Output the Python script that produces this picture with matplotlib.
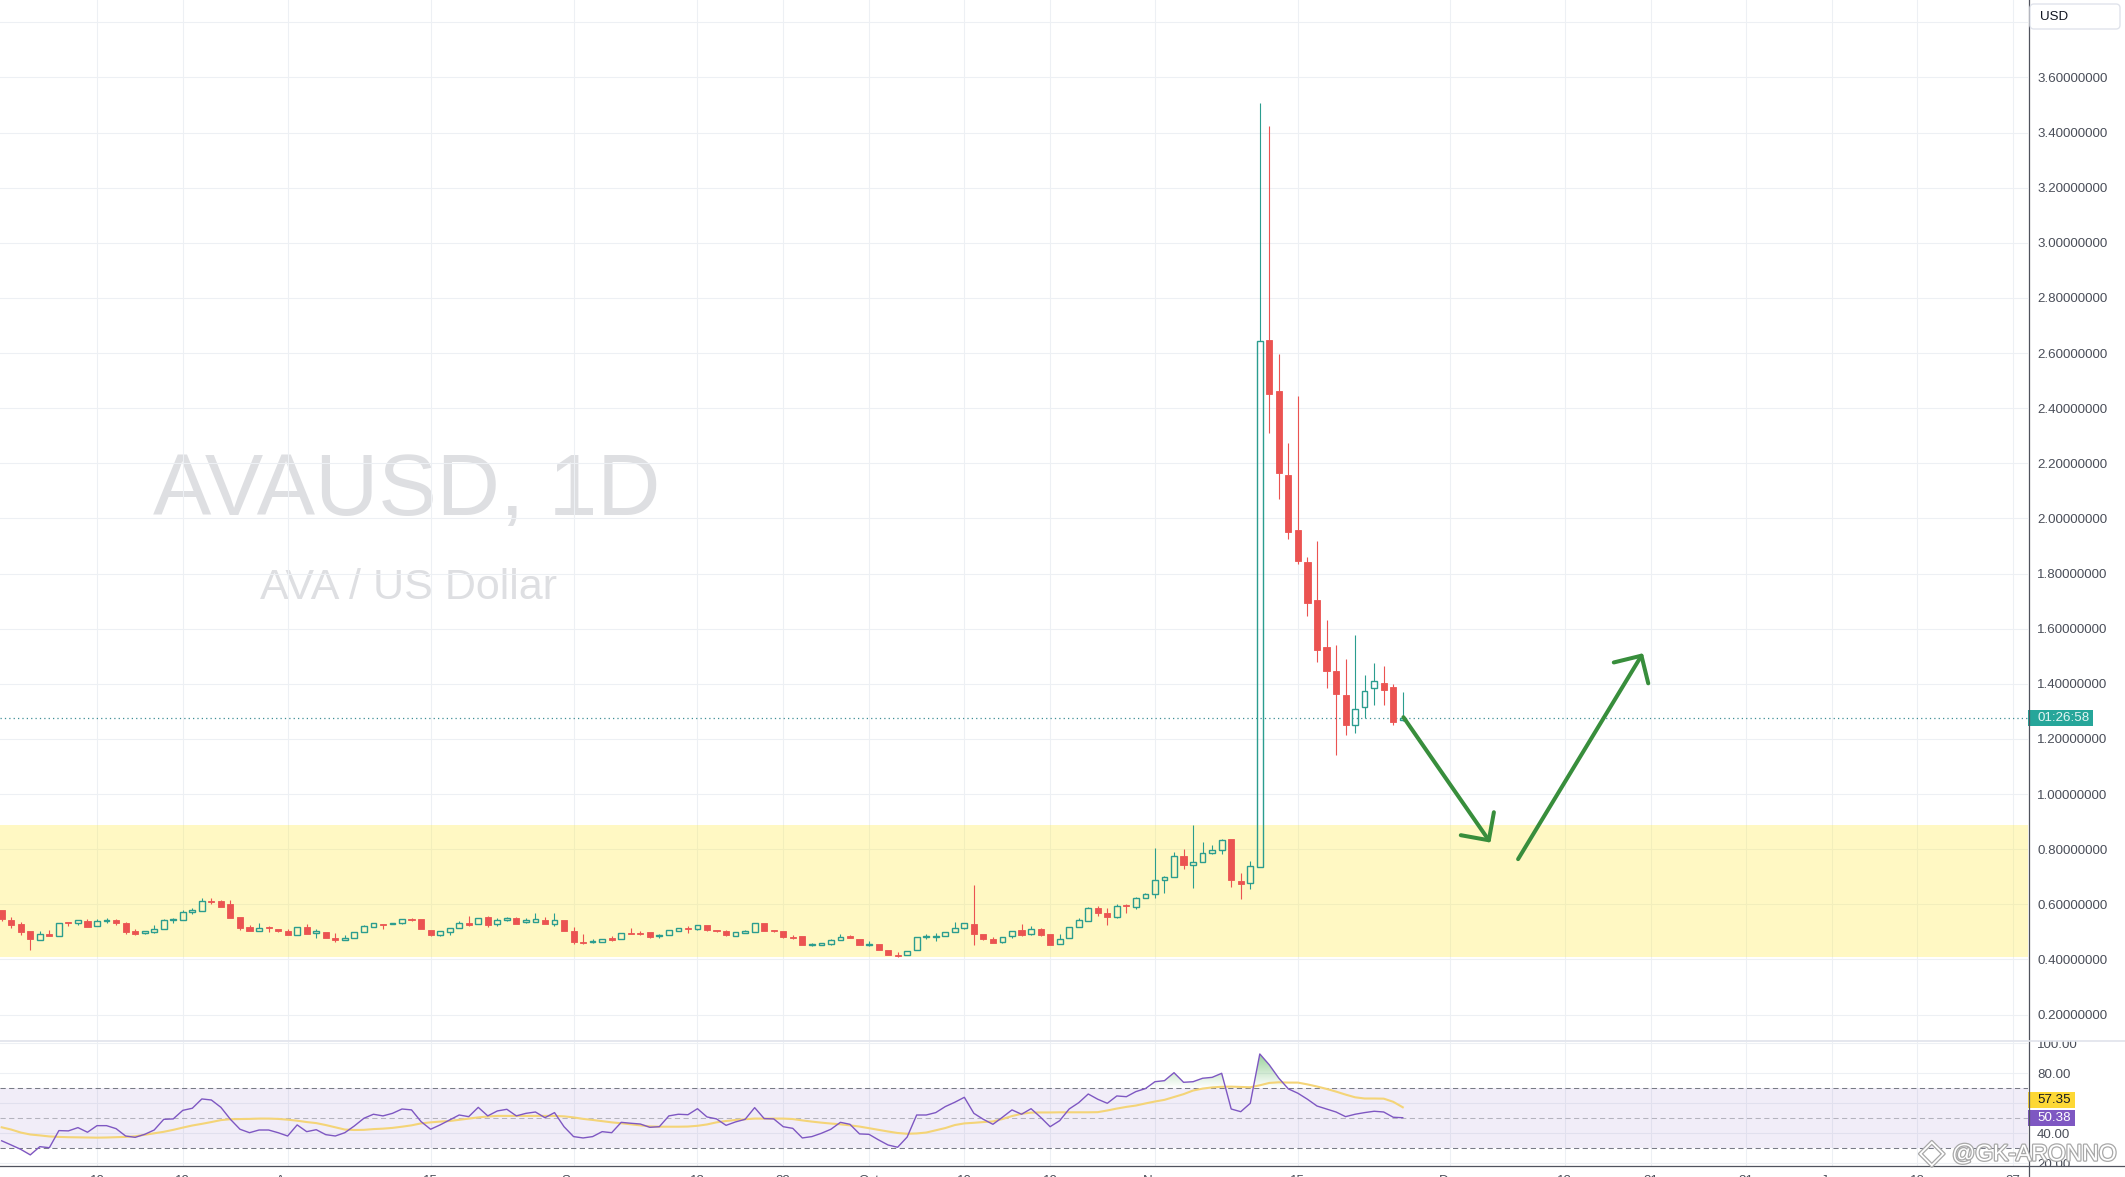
import numpy as np
import matplotlib
matplotlib.use("Agg")
import matplotlib.pyplot as plt
import matplotlib.patheffects as pe
from matplotlib.lines import Line2D
from matplotlib.patches import FancyBboxPatch, Rectangle
from matplotlib.path import Path
from matplotlib.transforms import Affine2D, Bbox, TransformedBbox, blended_transform_factory

plt.rcParams['font.family'] = ['Liberation Sans', 'DejaVu Sans']

# daily candles
opens = [.578, .544, .527, .502, .471, .494, .486, .536, .532, .539,
         .520, .539, .542, .531, .503, .497, .499, .510, .542, .543,
         .571, .576, .611, .611, .600, .553, .516, .504, .515, .511,
         .505, .490, .519, .496, .501, .479, .471, .479, .499, .519,
         .530, .527, .533, .547, .545, .508, .488, .499, .514, .534,
         .528, .553, .528, .542, .549, .537, .537, .542, .528, .544,
         .504, .465, .464, .465, .479, .475, .497, .495, .499, .485,
         .490, .504, .514, .510, .526, .508, .505, .486, .497, .501,
         .531, .508, .503, .480, .484, .454, .453, .457, .471, .484,
         .476, .454, .455, .436, .417, .417, .433, .480, .481, .485,
         .498, .513, .528, .494, .476, .462, .484, .507, .491, .510,
         .492, .455, .477, .518, .538, .587, .567, .555, .598, .592,
         .622, .636, .687, .699, .776, .742, .753, .786, .796, .836,
         .685, .676, .734, 2.647, 2.462, 2.157, 1.958, 1.841, 1.703, 1.532,
         1.448, 1.360, 1.251, 1.317, 1.385, 1.404, 1.390, 1.268]
highs = [.581, .554, .536, .505, .505, .508, .533, .536, .544, .548,
         .548, .549, .548, .536, .509, .505, .526, .548, .550, .578,
         .587, .622, .623, .614, .617, .555, .526, .534, .522, .511,
         .509, .519, .527, .509, .501, .496, .487, .498, .524, .534,
         .530, .534, .547, .551, .548, .508, .505, .514, .541, .556,
         .551, .558, .550, .553, .553, .549, .567, .553, .567, .544,
         .519, .491, .473, .475, .484, .497, .513, .502, .499, .494,
         .508, .514, .522, .526, .526, .508, .508, .498, .508, .531,
         .534, .508, .503, .488, .484, .458, .461, .474, .491, .487,
         .476, .467, .455, .436, .427, .432, .481, .491, .497, .501,
         .536, .531, .670, .494, .481, .481, .505, .527, .520, .515,
         .492, .491, .516, .550, .591, .593, .585, .600, .600, .628,
         .641, .804, .702, .791, .800, .888, .826, .815, .838, .836,
         .714, .756, 3.506, 3.423, 2.597, 2.274, 2.443, 1.859, 1.920, 1.630,
         1.542, 1.489, 1.576, 1.433, 1.474, 1.466, 1.401, 1.370]
lows = [.541, .514, .488, .433, .471, .485, .486, .521, .524, .519,
        .520, .531, .526, .493, .487, .493, .497, .510, .533, .543,
        .566, .576, .600, .590, .550, .507, .503, .504, .498, .498,
        .490, .490, .492, .479, .479, .463, .471, .479, .499, .516,
        .510, .527, .530, .539, .510, .484, .486, .488, .514, .520,
        .528, .518, .521, .538, .530, .531, .537, .530, .521, .503,
        .456, .456, .461, .465, .468, .475, .492, .487, .479, .478,
        .490, .504, .496, .508, .503, .498, .485, .486, .497, .501,
        .503, .499, .477, .474, .453, .449, .453, .452, .471, .479,
        .454, .449, .435, .417, .410, .417, .433, .473, .468, .484,
        .498, .509, .453, .469, .461, .458, .478, .486, .487, .486,
        .453, .455, .477, .518, .538, .559, .526, .550, .570, .584,
        .622, .624, .640, .699, .730, .661, .753, .784, .784, .664,
        .621, .657, .734, 2.311, 2.071, 1.927, 1.833, 1.646, 1.479, 1.385,
        1.14, 1.216, 1.222, 1.276, 1.325, 1.325, 1.251, 1.265]
closes = [.545, .524, .499, .474, .494, .485, .533, .532, .542, .519,
          .541, .541, .531, .499, .492, .502, .511, .544, .545, .571,
          .578, .612, .608, .590, .550, .514, .503, .513, .513, .503,
          .490, .519, .492, .503, .479, .469, .479, .498, .520, .531,
          .525, .534, .547, .544, .510, .487, .502, .514, .531, .524,
          .551, .524, .544, .550, .530, .542, .545, .530, .544, .503,
          .463, .459, .468, .475, .469, .497, .493, .493, .481, .487,
          .508, .513, .511, .526, .507, .502, .488, .498, .505, .531,
          .503, .505, .481, .478, .453, .456, .461, .469, .482, .479,
          .454, .457, .435, .417, .413, .432, .481, .484, .485, .501,
          .514, .531, .493, .475, .461, .481, .505, .490, .509, .490,
          .453, .473, .516, .542, .585, .567, .555, .594, .593, .622,
          .636, .687, .698, .774, .741, .753, .787, .796, .833, .690,
          .675, .738, 2.644, 2.453, 2.164, 1.951, 1.846, 1.693, 1.523, 1.446,
          1.362, 1.251, 1.310, 1.375, 1.412, 1.377, 1.261, 1.275]

rsi = [35.0, 32.2, 29.3, 25.6, 31.1, 30.4, 41.8, 41.6, 43.8, 40.7,
       45.1, 45.1, 43.1, 38.2, 37.3, 39.3, 42.2, 49.3, 49.6, 55.3,
       56.7, 62.9, 62.2, 57.3, 49.3, 42.7, 40.4, 42.2, 42.2, 40.4,
       38.2, 45.6, 41.1, 42.4, 39.1, 38.2, 40.4, 44.9, 50.0, 52.7,
       51.6, 53.3, 56.2, 55.6, 47.8, 42.7, 45.6, 48.9, 52.2, 51.1,
       57.3, 51.6, 54.9, 56.0, 51.6, 53.3, 54.2, 50.4, 53.8, 44.4,
       37.8, 36.9, 37.8, 41.1, 40.4, 47.3, 46.7, 46.2, 44.0, 44.4,
       51.6, 52.7, 52.4, 56.4, 50.9, 49.6, 45.3, 47.6, 49.3, 57.1,
       49.8, 49.6, 44.4, 43.3, 36.9, 37.8, 40.0, 42.7, 47.3, 46.0,
       39.6, 39.3, 35.6, 32.2, 30.7, 37.5, 52.2, 52.2, 53.8, 57.8,
       60.7, 64.0, 53.3, 49.3, 46.0, 50.7, 55.6, 52.7, 56.4, 50.7,
       44.4, 48.4, 56.2, 60.4, 66.2, 62.7, 60.0, 64.9, 64.4, 67.8,
       69.8, 74.4, 75.1, 80.4, 74.0, 74.4, 76.7, 77.3, 80.0, 56.2,
       54.4, 60.0, 92.9, 85.6, 76.7, 69.6, 66.7, 62.7, 58.2, 56.2,
       54.2, 51.1, 52.7, 53.8, 54.7, 54.2, 50.7, 50.38]
rsi_ma = [44.0, 42.5, 40.5, 39.2, 38.6, 37.9, 37.6, 37.4, 37.3, 37.2,
          37.1, 37.2, 37.4, 37.6, 38.0, 39.0, 40.0, 41.0, 42.3, 43.8,
          45.2, 46.3, 47.5, 48.8, 49.4, 49.5, 49.6, 49.8, 49.8, 49.6,
          49.1, 48.4, 47.5, 46.8, 45.5, 44.0, 42.5, 42.2, 42.3, 42.8,
          43.1, 43.6, 44.4, 45.3, 46.6, 47.3, 47.8, 48.2, 49.0, 49.8,
          50.6, 51.2, 51.6, 51.6, 51.6, 51.6, 51.6, 51.6, 51.6, 51.3,
          50.6, 49.6, 48.9, 48.1, 47.3, 46.7, 46.0, 45.3, 44.6, 44.4,
          44.4, 44.4, 44.5, 45.0, 45.9, 47.3, 48.2, 48.9, 49.4, 49.8,
          49.8, 49.8, 49.8, 49.5, 48.6, 47.8, 47.1, 46.5, 46.0, 45.3,
          44.5, 43.4, 42.3, 41.2, 40.2, 39.7, 39.9, 40.5, 42.0, 43.5,
          45.5, 46.6, 47.0, 47.5, 47.9, 49.5, 51.5, 53.0, 53.8, 53.9,
          53.9, 54.0, 54.0, 54.0, 54.0, 54.1, 55.2, 56.5, 57.6, 58.5,
          59.9, 61.2, 62.3, 64.2, 66.1, 68.5, 69.8, 70.6, 71.0, 71.1,
          70.9, 70.7, 72.0, 73.6, 74.0, 73.8, 73.8, 72.6, 71.2, 69.6,
          67.8, 65.8, 64.0, 63.2, 63.2, 63.1, 61.0, 57.35]

zone = [0.409, 0.888]
price_ticks = [0.2, 0.4, 0.6, 0.8, 1.0, 1.2, 1.4, 1.6, 1.8, 2.0,
               2.2, 2.4, 2.6, 2.8, 3.0, 3.2, 3.4, 3.6, 3.8]
rsi_ticks = [20, 40, 60, 80, 100]
rsi_tick_labels = ['20.00', '40.00', '', '80.00', '100.00']
date_ticks = [10, 19, 30, 45, 60, 73, 82, 91, 101, 110, 121, 136, 152, 164, 173, 183, 192, 201, 211]
date_labels = ['10', '19', 'Aug', '15', 'Sep', '13', '22', 'Oct', '10', '19', 'Nov',
               '15', 'Dec', '12', '21', '31', 'Jan', '18', '27']
arrow_down = [(147.07, 1.279), (156.2, 0.824)]
arrow_up = [(159.1, 0.764), (172.2, 1.511)]
countdown = '01:26:58'

W, H = 2125, 1177
UP = '#2b9d8f'
DOWN = '#eb5351'
GRID = '#edf0f4'
AXTXT = '#4a4e59'


def frac(left, top, width, height):
    return [left / W, 1 - (top + height) / H, width / W, height / H]


fig = plt.figure(figsize=(W / 100, H / 100), dpi=100)
fig.patch.set_facecolor('white')
ax = fig.add_axes(frac(0, 0, 2028, 1040.5))
ax_rsi = fig.add_axes(frac(0, 1041.5, 2028, 124.5))
px = Affine2D().scale(1 / W, 1 / H) + fig.transFigure

idx = np.arange(len(closes))
o = np.array(opens)
h = np.array(highs)
l = np.array(lows)
c = np.array(closes)
up = c >= o
top = np.maximum(o, c)
bot = np.minimum(o, c)
body = np.maximum(top - bot, 0.003)

# --- price pane ---
for col, m in [(UP, up), (DOWN, ~up)]:
    ax.vlines(idx[m], top[m], h[m], color=col, lw=0.8, zorder=2)
    ax.vlines(idx[m], l[m], bot[m], color=col, lw=0.8, zorder=2)
ax.bar(idx[~up], body[~up], bottom=bot[~up], width=0.64, color=DOWN,
       edgecolor=DOWN, lw=0.6, zorder=3)
ax.bar(idx[up], body[up], bottom=bot[up], width=0.6, facecolor='none',
       edgecolor=UP, lw=1.0, zorder=3)

ax.axhspan(zone[0], zone[1], facecolor=(1, 0.922, 0.231, 0.3), edgecolor='none', zorder=0.8)
ax.axhline(c[-1], color='#3f8f96', lw=0.9, ls=(0, (1, 2.5)), zorder=1.5)

for start, end in [arrow_down, arrow_up]:
    ax.annotate('', xy=end, xytext=start,
                arrowprops=dict(arrowstyle='->,head_length=1.45,head_width=1.45',
                                color='#388e3c', lw=2.9, shrinkA=0, shrinkB=0,
                                mutation_scale=10, capstyle='round', joinstyle='round'),
                zorder=4)

ax.text(407 / W, 1 - 515 / H, 'AVAUSD, 1D', transform=fig.transFigure, ha='center',
        va='baseline', fontsize=63, color='#dedfe2', zorder=0.2)
ax.text(408 / W, 1 - 599 / H, 'AVA / US Dollar', transform=fig.transFigure, ha='center',
        va='baseline', fontsize=31, color='#dedfe2', zorder=0.2)

ax.set_xlim(-0.178, 212.6)
ax.set_ylim(0.106, 3.881)
ax.set_xticks(date_ticks)
ax.set_yticks(price_ticks)
ax.set_yticklabels([f'{v:.8f}' if v < 3.7 else '' for v in price_ticks])
ax.yaxis.tick_right()
ax.tick_params(axis='y', length=0, pad=6.5, labelsize=9.6, labelcolor=AXTXT)
ax.tick_params(axis='x', length=0, labelbottom=False)
ax.grid(True, color=GRID, lw=0.75)
ax.set_axisbelow(True)
for s in ax.spines.values():
    s.set_visible(False)

# countdown label on the price scale
bt = blended_transform_factory(ax.transAxes, ax.transData)
ax.add_patch(Rectangle((1.0, c[-1] - 0.029), 65 / 2028, 0.058, transform=bt,
                       facecolor='#26a69a', edgecolor='none', clip_on=False, zorder=5))
ax.text(1.0 + 9 / 2028, c[-1], countdown, transform=bt, ha='left', va='center',
        fontsize=9.6, color='#e3f5f3', clip_on=False, zorder=6)

# --- RSI pane ---
ax_rsi.axhspan(30, 70, facecolor=(0.494, 0.341, 0.761, 0.1), edgecolor='none', zorder=0.8)
ax_rsi.axhline(70, color='#787b86', lw=0.75, ls=(0, (5, 3.3)), zorder=1)
ax_rsi.axhline(30, color='#787b86', lw=0.75, ls=(0, (5, 3.3)), zorder=1)
ax_rsi.axhline(50, color='#787b86', lw=0.75, ls=(0, (5, 3.3)), alpha=0.5, zorder=1)

r = np.array(rsi)
for lvl, where, rgb, ext in [(70, r > 70, (0.30, 0.69, 0.31), (70, 100)),
                            (30, r < 30, (0.94, 0.33, 0.31), (0, 30))]:
    fb = ax_rsi.fill_between(idx, r, lvl, where=where, interpolate=True,
                             facecolor='none', edgecolor='none')
    img = np.zeros((100, 1, 4))
    img[..., :3] = rgb
    ramp = np.linspace(0.0, 0.75, 100)
    img[:, 0, 3] = ramp if ext[0] == 70 else ramp[::-1]
    im = ax_rsi.imshow(img, extent=[idx[0], idx[-1], ext[0], ext[1]], origin='lower',
                       aspect='auto', interpolation='bilinear', zorder=1.2)
    im.set_clip_path(Path.make_compound_path(*fb.get_paths()), transform=ax_rsi.transData)

ax_rsi.plot(idx, rsi_ma, color='#f4d477', lw=1.5, zorder=2)
ax_rsi.plot(idx, rsi, color='#7e57c2', lw=1.0, zorder=3)

ax_rsi.set_xlim(-0.178, 212.6)
ax_rsi.set_ylim(18.2, 101.2)
ax_rsi.set_yticks(rsi_ticks)
ax_rsi.set_yticklabels(rsi_tick_labels)
ax_rsi.yaxis.tick_right()
ax_rsi.tick_params(axis='y', length=0, pad=6.5, labelsize=9.6, labelcolor=AXTXT)
ax_rsi.set_xticks(date_ticks)
ax_rsi.set_xticklabels(date_labels)
ax_rsi.tick_params(axis='x', length=0, pad=6.5, labelsize=9.6, labelcolor=AXTXT)
ax_rsi.grid(True, color=GRID, lw=0.75)
ax_rsi.set_axisbelow(True)
for s in ax_rsi.spines.values():
    s.set_visible(False)
clip = TransformedBbox(Bbox.from_bounds(0, 11 / H, 1, 125 / H), fig.transFigure)
for lab in ax_rsi.get_yticklabels():
    lab.set_clip_box(clip)
    lab.set_clip_on(True)

bt2 = blended_transform_factory(ax_rsi.transAxes, ax_rsi.transData)
rsi_y = rsi[-1]
ma_y = max(rsi_ma[-1], rsi_y + 11.7)
for val, ypos, fc, tc in [(rsi_ma[-1], ma_y, '#fdd835', '#131722'),
                          (rsi[-1], rsi_y, '#7e57c2', 'white')]:
    ax_rsi.add_patch(Rectangle((1.0, ypos - 5.3), 47 / 2028, 10.6, transform=bt2,
                               facecolor=fc, edgecolor='none', clip_on=False, zorder=5))
    ax_rsi.text(1.0 + 9 / 2028, ypos, f'{val:.2f}', transform=bt2, ha='left', va='center',
                fontsize=9.6, color=tc, clip_on=False, zorder=6)

# --- frame lines, boxes, watermark ---
fig.add_artist(Line2D([2028.5, 2028.5], [0, H], transform=px, color='#50535e', lw=0.9))
fig.add_artist(Line2D([0, W], [H - 1041, H - 1041], transform=px, color='#e0e3eb', lw=1.2))
fig.add_artist(Line2D([0, W], [H - 1166, H - 1166], transform=px, color='#50535e', lw=0.9))

fig.add_artist(FancyBboxPatch((2030, H - 29), 90, 25, boxstyle='round,pad=0,rounding_size=4',
                              transform=px, facecolor='white', edgecolor='#e0e3eb', lw=1, zorder=5))
fig.text(2040 / W, (H - 16.5) / H, 'USD', ha='left', va='center', fontsize=9.6,
         color='#131722', zorder=6)

wm = [pe.withStroke(linewidth=1.8, foreground='#a8a8a8')]
fig.text(1919 / W, (H - 1153) / H, '\u25c7', ha='left', va='center', fontsize=24,
         color='white', family=['DejaVu Sans'], path_effects=wm, zorder=7)
fig.text(1952 / W, (H - 1154) / H, '@GK-ARONNO', ha='left', va='center', fontsize=16.5,
         color='white', path_effects=wm, zorder=7)

fig.savefig('out.png', dpi=100, facecolor='white')
